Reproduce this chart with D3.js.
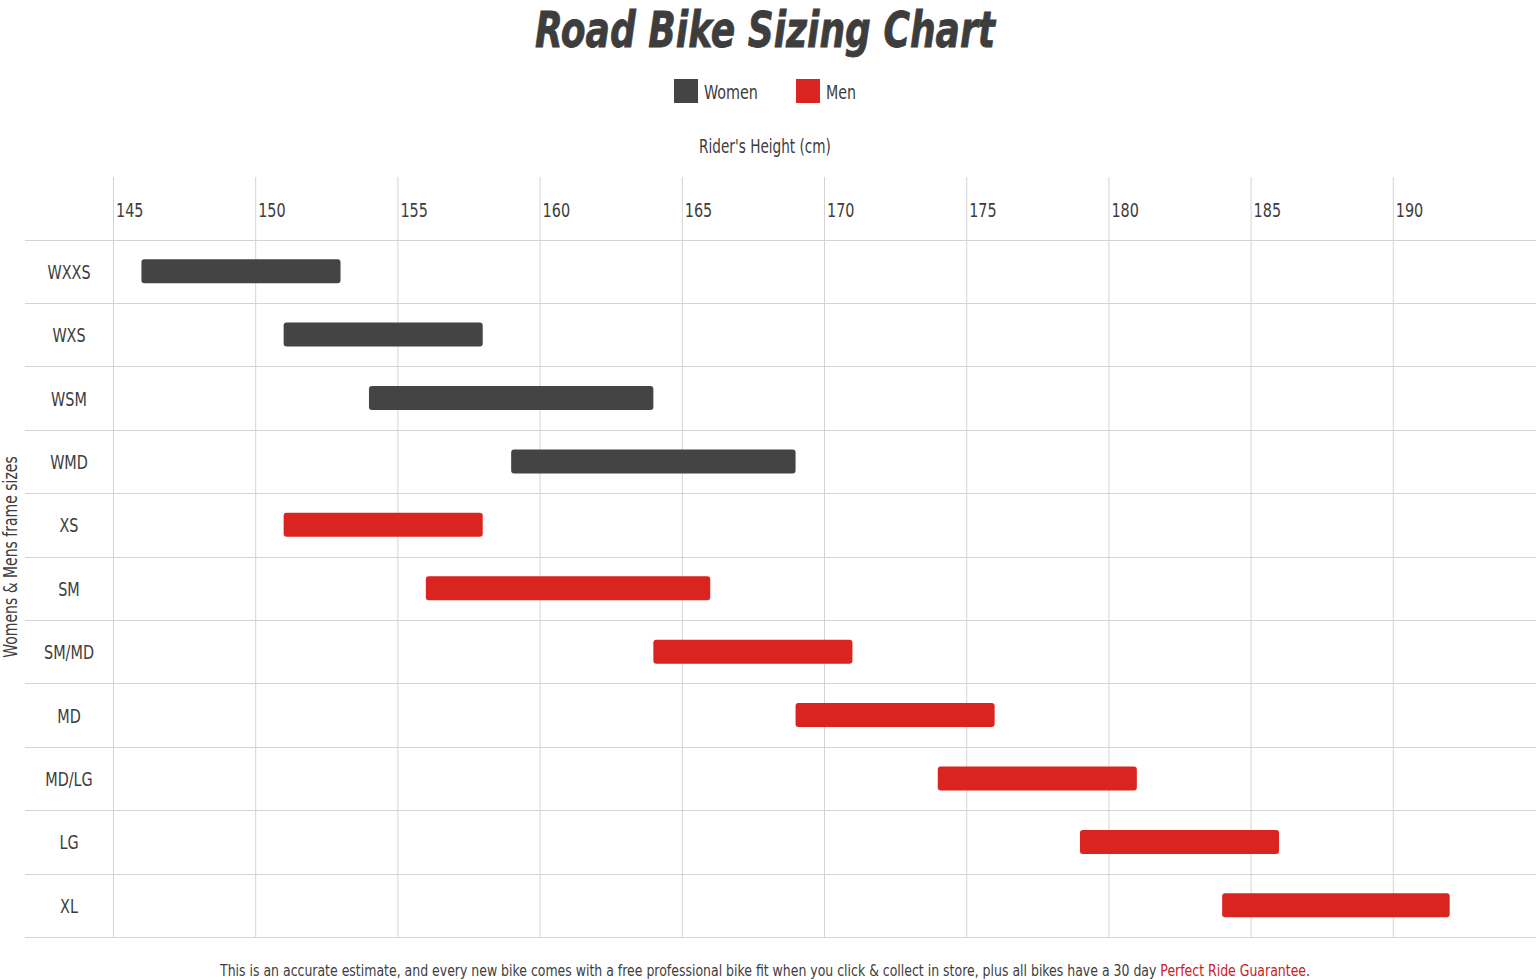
<!DOCTYPE html>
<html>
<head>
<meta charset="utf-8">
<script src="https://cdn.jsdelivr.net/npm/d3@7"></script>
<style>
  html, body { margin: 0; padding: 0; background: #fff; }
  svg { display: block; }
  text { font-family: "DejaVu Sans Condensed", "Liberation Sans Narrow", "Roboto", sans-serif; fill: #3d3d3d; }
</style>
</head>
<body>
<svg id="chart" width="1536" height="980"></svg>
<script>
const categories = ["WXXS", "WXS", "WSM", "WMD", "XS", "SM", "SM/MD", "MD", "MD/LG", "LG", "XL"];
const groups = ["Women", "Women", "Women", "Women", "Men", "Men", "Men", "Men", "Men", "Men", "Men"];
const minHeight = [146, 151, 154, 159, 151, 156, 164, 169, 174, 179, 184];
const maxHeight = [153, 158, 164, 169, 158, 166, 171, 176, 181, 186, 192];
const tickValues = [145, 150, 155, 160, 165, 170, 175, 180, 185, 190];
const legendLabels = ["Women", "Men"];
const colors = { Women: "#444444", Men: "#da2420" };

const svg = d3.select("#chart");
const NARROW = 0.8;

// place a text at (x,y) horizontally compressed by factor f
function placeNarrow(sel, x, y, f, rot) {
  sel.attr("x", 0).attr("y", 0)
     .attr("transform", `translate(${x},${y})` + (rot ? ` rotate(${rot})` : "") + ` scale(${f},1)`);
  return sel;
}
// compress a text to a target width
function fitWidth(sel, x, y, target) {
  sel.attr("x", 0).attr("y", 0).attr("transform", `translate(${x},${y})`);
  const w = sel.node().getComputedTextLength();
  sel.attr("transform", `translate(${x},${y}) scale(${target / w},1)`);
  return sel;
}

const x = d3.scaleLinear().domain([145, 195]).range([113, 1535]);
const y = d3.scaleBand().domain(categories).range([239.5, 937]).padding(0);

// Title
const title = svg.append("text")
  .attr("text-anchor", "middle")
  .style("font-size", "50px").style("font-weight", "bold").style("font-style", "italic")
  .style("stroke", "#3d3d3d").style("stroke-width", "0.8px")
  .text("Road Bike Sizing Chart");
fitWidth(title, 765, 46.5, 460);

// Legend
const legendX = [674, 796];
const legendW = [54, 30];
legendLabels.forEach((g, i) => {
  svg.append("rect").attr("x", legendX[i]).attr("y", 79).attr("width", 24).attr("height", 24).attr("fill", colors[g]);
  const t = svg.append("text").style("font-size", "20px").text(g);
  fitWidth(t, legendX[i] + 30, 98.5, legendW[i]);
});

// Axis title
const at = svg.append("text").attr("text-anchor", "middle").style("font-size", "19px").text("Rider's Height (cm)");
fitWidth(at, 765, 153, 132);

// Vertical grid via axis
const xAxis = d3.axisTop(x).tickValues(tickValues).tickSize(-(937 - 177)).tickFormat(d3.format("d"));
const gx = svg.append("g").attr("transform", "translate(0,177)").call(xAxis);
gx.select(".domain").remove();
gx.selectAll(".tick line").attr("stroke", "#d4d4d4").attr("stroke-width", 1);
gx.selectAll(".tick text")
  .attr("dy", 0)
  .attr("text-anchor", "start")
  .style("font-size", "20px").style("font-family", null).attr("fill", "#3d3d3d")
  .each(function () { placeNarrow(d3.select(this), 2.5, 40, NARROW); });

// Horizontal grid lines
const hLines = [y.range()[0]].concat(categories.map(c => y(c) + y.bandwidth()));
svg.append("g").selectAll("line").data(hLines).join("line")
  .attr("x1", 25).attr("x2", 1536)
  .attr("y1", d => Math.round(d) + 0.5).attr("y2", d => Math.round(d) + 0.5)
  .attr("stroke", "#d4d4d4").attr("stroke-width", 1);

// Category labels
svg.append("g").selectAll("text").data(categories).join("text")
  .attr("text-anchor", "middle").style("font-size", "20px")
  .text(d => d)
  .each(function (d) { placeNarrow(d3.select(this), 69, y(d) + y.bandwidth() / 2 + 7.5, NARROW); });

// Y axis title
const yt = svg.append("text").attr("text-anchor", "middle").style("font-size", "19px")
  .text("Womens & Mens frame sizes");
placeNarrow(yt, 17, 557, 0.82, -90);

// Bars
const barH = 24;
svg.append("g").selectAll("rect").data(categories).join("rect")
  .attr("x", (d, i) => x(minHeight[i]))
  .attr("width", (d, i) => x(maxHeight[i]) - x(minHeight[i]))
  .attr("y", d => y(d) + y.bandwidth() / 2 - barH / 2)
  .attr("height", barH)
  .attr("rx", 3).attr("ry", 3)
  .attr("fill", (d, i) => colors[groups[i]]);

// Footer
const foot = svg.append("text").attr("text-anchor", "middle").style("font-size", "16.5px");
foot.append("tspan").text("This is an accurate estimate, and every new bike comes with a free professional bike fit when you click & collect in store, plus all bikes have a 30 day ");
foot.append("tspan").style("fill", "#c8201c").text("Perfect Ride Guarantee");
foot.append("tspan").text(".");
fitWidth(foot, 765, 976, 1090);
</script>
</body>
</html>
